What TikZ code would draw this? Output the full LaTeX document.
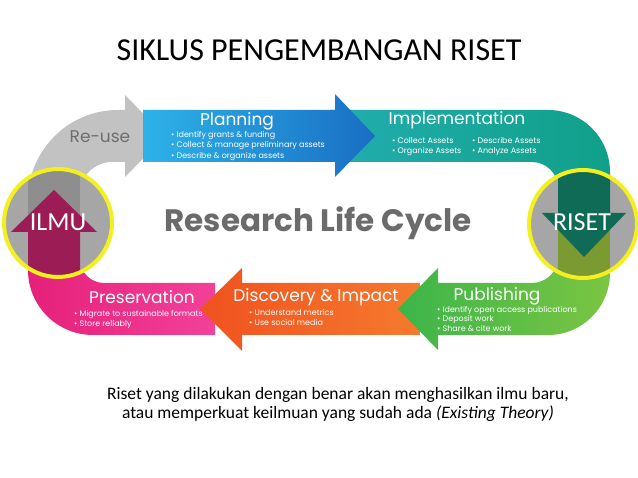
\documentclass[tikz,border=0pt]{standalone}
\usepackage{fontspec}
\setmainfont{Carlito}
\newfontfamily\gothic{Poppins}
\usetikzlibrary{positioning}
\definecolor{reusegray}{HTML}{C2C2C2}
\definecolor{reusetext}{HTML}{6E6E6E}
\definecolor{planleft}{HTML}{2DB2E8}
\definecolor{planright}{HTML}{1A6EC4}
\definecolor{implleft}{HTML}{22ADAE}
\definecolor{implright}{HTML}{10A089}
\definecolor{publeft}{HTML}{3BB54A}
\definecolor{pubright}{HTML}{7CC542}
\definecolor{discleft}{HTML}{F0521F}
\definecolor{discright}{HTML}{F57A2E}
\definecolor{presleft}{HTML}{E6207A}
\definecolor{presright}{HTML}{F2419A}
\definecolor{circgray}{HTML}{A6A6A6}
\definecolor{stripegray}{HTML}{8E8E8E}
\definecolor{ilmured}{HTML}{9C1C55}
\definecolor{risetgreen}{HTML}{0F6B55}
\definecolor{risetolive}{HTML}{7B9A32}
\definecolor{ringyellow}{HTML}{F4EF1E}
\definecolor{lifegray}{HTML}{6B6B6B}
\tikzset{
    phase/.style={font=\gothic\fontsize{17}{17}\selectfont, text=white, inner sep=0pt},
    notes/.style={font=\gothic\fontsize{8}{10.5}\selectfont, text=white, align=left, anchor=north west, inner sep=0pt},
    ring/.style={draw=ringyellow, line width=4pt},
    badge/.style={font=\fontsize{26}{26}\selectfont, text=white, inner sep=0pt},
}

\begin{document}
\begin{tikzpicture}[x=1pt, y=1pt]
    \useasboundingbox (0,0) rectangle (638,478);
    \fill[white] (0,0) rectangle (638,478);

    % ring of the cycle
    \fill[reusegray] (28,250) -- (28,278) arc[start angle=180, end angle=90, radius=90]
        -- (125,368) -- (125,383) -- (165,342) -- (125,301) -- (125,316)
        -- (112,316) arc[start angle=90, end angle=180, radius=32] -- (80,250) -- cycle;
    \path[left color=implleft, right color=implright] (330,316) -- (330,368)
        -- (548,368) arc[start angle=90, end angle=0, radius=62] -- (610,243)
        -- (558,243) -- (558,290) arc[start angle=0, end angle=90, radius=26] -- cycle;
    \path[left color=planleft, right color=planright] (143,316) -- (143,368) -- (335,368)
        -- (335,384) -- (375,342) -- (335,301) -- (335,316) -- cycle;
    \path[left color=presleft, right color=presright] (215,195) -- (104,195)
        arc[start angle=-90, end angle=-180, radius=24] -- (80,250) -- (28,250)
        -- (28,208) arc[start angle=180, end angle=270, radius=65] -- (215,143) -- cycle;
    \path[left color=discleft, right color=discright] (420,143) -- (242,143) -- (242,127)
        -- (200,169) -- (242,210) -- (242,195) -- (420,195) -- cycle;
    \path[left color=publeft, right color=pubright] (610,243) -- (610,205)
        arc[start angle=0, end angle=-90, radius=62] -- (438,143) -- (438,128)
        -- (398,169) -- (438,210) -- (438,195) -- (532,195)
        arc[start angle=-90, end angle=0, radius=26] -- (558,243) -- cycle;

    % ILMU
    \begin{scope}
        \clip (58,255) circle[radius=54];
        \fill[circgray] (0,195) rectangle (120,315);
        \fill[stripegray] (28,195) rectangle (80,315);
        \fill[ilmured] (28,195) -- (28,246) -- (11,246) -- (54,288) -- (97,246) -- (80,246) -- (80,195) -- cycle;
    \end{scope}
    \draw[ring] (58,255) circle[radius=54];
    \node[badge] (ilmu) at (58,256) {ILMU};

    % RISET
    \begin{scope}
        \clip (583,254) circle[radius=54];
        \fill[circgray] (520,195) rectangle (640,315);
        \fill[risetolive] (558,195) rectangle (610,250);
        \fill[risetgreen] (558,315) -- (558,265) -- (542,265) -- (584,221) -- (626,265) -- (610,265) -- (610,315) -- cycle;
    \end{scope}
    \draw[ring] (583,254) circle[radius=54];
    \node[badge] (riset) at (582,256) {RISET};

    % labels
    \node[font=\fontsize{32}{32}\selectfont, text=black] (title) at (319,428) {SIKLUS PENGEMBANGAN RISET};
    \node[font=\gothic\bfseries\fontsize{31}{31}\selectfont, text=lifegray] (cycle) at (318,255) {Research Life Cycle};
    \node[font=\gothic\fontsize{17}{17}\selectfont, text=reusetext, inner sep=0pt] (reuse) at (100,341) {Re-use};

    \node[phase] (plan) at (237,357) {Planning};
    \node[notes] (plannotes) at (171,347) {• Identify grants \& funding\\• Collect \& manage preliminary assets\\• Describe \& organize assets};
    \node[phase] (impl) at (457,358) {Implementation};
    \node[notes] (implnotes) at (392,341) {• Collect Assets\\• Organize Assets};
    \node[notes] (implnotes2) at (472,341) {• Describe Assets\\• Analyze Assets};

    \node[phase] (pres) at (142,181) {Preservation};
    \node[notes] (presnotes) at (74,168) {• Migrate to sustainable formats\\• Store reliably};
    \node[phase] (disc) at (316,181) {Discovery \& Impact};
    \node[notes] (discnotes) at (249,169) {• Understand metrics\\• Use social media};
    \node[phase] (pub) at (497,182) {Publishing};
    \node[notes, font=\gothic\fontsize{8}{9.5}\selectfont] (pubnotes) at (437,172) {• Identify open access publications\\• Deposit work\\• Share \& cite work};

    \node[font=\fontsize{17.5}{19}\selectfont, align=center] (caption) at (338,74)
        {Riset yang dilakukan dengan benar akan menghasilkan ilmu baru,\\atau memperkuat keilmuan yang sudah ada \textit{(Existing Theory)}};
\end{tikzpicture}
\end{document}
